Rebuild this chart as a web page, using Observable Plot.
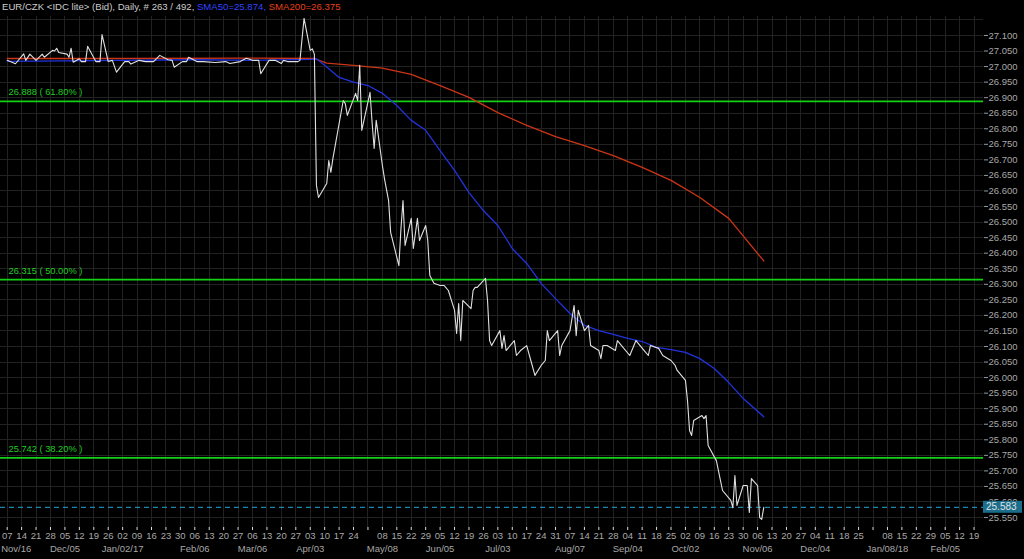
<!DOCTYPE html>
<html><head><meta charset="utf-8">
<script src="https://cdn.jsdelivr.net/npm/d3@7"></script>
<script src="https://cdn.jsdelivr.net/npm/@observablehq/plot@0.6"></script>
<style>
html,body{margin:0;padding:0;background:#000;overflow:hidden;}
#title{height:16px;font:9.6px "Liberation Sans",Arial,sans-serif;color:#cccccc;white-space:nowrap;padding-left:2px;line-height:13px;}
#chart svg{display:block;}
</style></head><body>
<div id="title">EUR/CZK &lt;IDC lite&gt; (Bid), Daily, # 263 / 492, <span style="color:#3344ff">SMA50=25.874,</span> <span style="color:#e8401a">SMA200=26.375</span></div>
<div id="chart"></div>
<script>
// ---- data ----
const bid = [
["2016-11-07",27.020],["2016-11-11",27.009],["2016-11-15",27.041],["2016-11-16",27.020],["2016-11-18",27.040],
["2016-11-21",27.020],["2016-11-24",27.040],["2016-11-25",27.030],["2016-11-29",27.052],["2016-11-30",27.050],
["2016-12-01",27.059],["2016-12-02",27.045],["2016-12-06",27.040],["2016-12-07",27.030],["2016-12-08",27.059],
["2016-12-09",27.014],["2016-12-12",27.025],["2016-12-13",27.016],["2016-12-15",27.016],["2016-12-16",27.065],
["2016-12-20",27.016],["2016-12-22",27.016],["2016-12-23",27.103],["2016-12-26",27.016],["2016-12-28",27.020],
["2016-12-30",26.982],["2017-01-03",27.016],["2017-01-05",27.016],["2017-01-06",27.008],["2017-01-10",27.020],
["2017-01-13",27.016],["2017-01-17",27.016],["2017-01-20",27.036],["2017-01-24",27.022],["2017-01-26",27.020],
["2017-01-27",26.998],["2017-01-31",27.016],["2017-02-02",27.016],["2017-02-03",27.030],["2017-02-07",27.016],
["2017-02-10",27.016],["2017-02-16",27.013],["2017-02-21",27.016],["2017-02-23",27.010],["2017-02-28",27.016],
["2017-03-03",27.027],["2017-03-06",27.020],["2017-03-09",27.020],["2017-03-10",26.977],["2017-03-14",27.020],
["2017-03-17",27.020],["2017-03-20",27.010],["2017-03-21",27.020],["2017-03-23",27.016],["2017-03-28",27.016],
["2017-03-29",27.020],["2017-03-31",27.155],["2017-04-03",27.052],["2017-04-04",27.057],["2017-04-05",27.040],
["2017-04-06",26.618],["2017-04-07",26.579],["2017-04-11",26.624],["2017-04-12",26.698],["2017-04-13",26.660],
["2017-04-14",26.705],["2017-04-19",26.891],["2017-04-20",26.881],["2017-04-21",26.843],["2017-04-25",26.914],
["2017-04-26",26.891],["2017-04-27",27.004],["2017-04-28",26.795],["2017-05-02",26.917],["2017-05-03",26.820],
["2017-05-04",26.737],["2017-05-05",26.827],["2017-05-08",26.682],["2017-05-09",26.640],["2017-05-11",26.569],
["2017-05-12",26.467],["2017-05-16",26.360],["2017-05-17",26.479],["2017-05-18",26.569],["2017-05-19",26.425],
["2017-05-22",26.512],["2017-05-23",26.415],["2017-05-25",26.512],["2017-05-26",26.441],["2017-05-29",26.489],
["2017-05-30",26.441],["2017-05-31",26.328],["2017-06-02",26.303],["2017-06-05",26.296],["2017-06-07",26.296],
["2017-06-09",26.280],["2017-06-12",26.216],["2017-06-13",26.142],["2017-06-14",26.238],["2017-06-15",26.119],
["2017-06-16",26.248],["2017-06-20",26.222],["2017-06-21",26.280],["2017-06-22",26.290],["2017-06-23",26.290],
["2017-06-27",26.319],["2017-06-28",26.248],["2017-06-29",26.119],["2017-06-30",26.103],["2017-07-04",26.151],
["2017-07-05",26.094],["2017-07-06",26.135],["2017-07-07",26.087],["2017-07-11",26.119],["2017-07-12",26.071],
["2017-07-14",26.087],["2017-07-17",26.103],["2017-07-19",26.055],["2017-07-21",26.007],["2017-07-24",26.039],
["2017-07-26",26.055],["2017-07-27",26.151],["2017-07-28",26.119],["2017-08-01",26.151],["2017-08-02",26.071],
["2017-08-03",26.103],["2017-08-07",26.151],["2017-08-09",26.232],["2017-08-10",26.135],["2017-08-11",26.216],
["2017-08-14",26.151],["2017-08-16",26.168],["2017-08-17",26.103],["2017-08-21",26.087],["2017-08-22",26.061],
["2017-08-23",26.103],["2017-08-25",26.103],["2017-08-29",26.087],["2017-08-30",26.119],["2017-09-01",26.103],
["2017-09-05",26.071],["2017-09-07",26.103],["2017-09-08",26.119],["2017-09-12",26.087],["2017-09-14",26.071],
["2017-09-15",26.103],["2017-09-19",26.094],["2017-09-21",26.071],["2017-09-25",26.055],["2017-09-27",26.039],
["2017-09-28",26.023],["2017-10-02",25.991],["2017-10-03",25.926],["2017-10-04",25.830],["2017-10-05",25.814],
["2017-10-06",25.862],["2017-10-10",25.878],["2017-10-11",25.868],["2017-10-12",25.878],["2017-10-13",25.782],
["2017-10-17",25.733],["2017-10-18",25.701],["2017-10-19",25.669],["2017-10-20",25.637],["2017-10-24",25.605],
["2017-10-25",25.582],["2017-10-26",25.685],["2017-10-27",25.589],["2017-10-30",25.653],["2017-11-01",25.653],
["2017-11-02",25.566],["2017-11-03",25.675],["2017-11-06",25.653],["2017-11-07",25.550],["2017-11-08",25.544],
["2017-11-09",25.583]
];
const sma50 = [
["2016-11-07",27.017],["2016-12-05",27.018],["2017-01-02",27.020],["2017-02-06",27.022],["2017-03-06",27.020],
["2017-04-03",27.023],["2017-04-06",27.025],["2017-04-10",27.004],["2017-04-17",26.965],["2017-04-24",26.950],
["2017-05-01",26.939],["2017-05-08",26.914],["2017-05-15",26.875],["2017-05-22",26.827],["2017-05-29",26.795],
["2017-06-05",26.730],["2017-06-12",26.666],["2017-06-19",26.595],["2017-06-26",26.537],["2017-07-03",26.489],
["2017-07-10",26.415],["2017-07-17",26.367],["2017-07-24",26.303],["2017-07-31",26.254],["2017-08-07",26.206],
["2017-08-14",26.168],["2017-08-21",26.151],["2017-08-28",26.139],["2017-09-04",26.126],["2017-09-11",26.116],
["2017-09-18",26.097],["2017-09-25",26.090],["2017-10-02",26.081],["2017-10-09",26.061],["2017-10-16",26.029],
["2017-10-23",25.984],["2017-10-30",25.933],["2017-11-09",25.874]
];
const sma200 = [
["2016-11-07",27.026],["2017-01-02",27.026],["2017-03-06",27.027],["2017-04-05",27.026],["2017-04-11",27.011],
["2017-04-24",27.004],["2017-05-08",26.995],["2017-05-22",26.975],["2017-06-05",26.939],["2017-06-19",26.901],
["2017-07-03",26.852],["2017-07-17",26.811],["2017-07-31",26.775],["2017-08-14",26.746],["2017-08-28",26.714],
["2017-09-11",26.676],["2017-09-25",26.634],["2017-10-09",26.579],["2017-10-23",26.512],["2017-11-09",26.375]
];
const fibLevels = [26.888, 26.315, 25.742];
const fibLabels = ["26.888 ( 61.80% )", "26.315 ( 50.00% )", "25.742 ( 38.20% )"];
const lastValue = 25.583;
const yTicks = d3.range(25.55, 27.1001, 0.05).map(v => +v.toFixed(3));
const monthLabels = [
["2016-11-07","Nov/16"],["2016-12-05","Dec/05"],["2017-01-02","Jan/02/17"],["2017-02-06","Feb/06"],
["2017-03-06","Mar/06"],["2017-04-03","Apr/03"],["2017-05-08","May/08"],["2017-06-05","Jun/05"],
["2017-07-03","Jul/03"],["2017-08-07","Aug/07"],["2017-09-04","Sep/04"],["2017-10-02","Oct/02"],
["2017-11-06","Nov/06"],["2017-12-04","Dec/04"],["2018-01-08","Jan/08/18"],["2018-02-05","Feb/05"]
];
const skipDayLabels = ["2017-05-01","2018-01-01"];
const xStart = "2016-11-03T18:00Z", xEnd = "2018-02-23T14:00Z";
const yMin = 25.518, yMax = 27.161;

// ---- build ----
const P = a => a.map(([d, v]) => ({date: new Date(d), v}));
const bidD = P(bid), s50 = P(sma50), s200 = P(sma200);
const weeks = d3.utcMonday.range(new Date("2016-11-07"), new Date("2018-02-20"));
const skip = new Set(skipDayLabels.map(d => +new Date(d)));
const fib = fibLevels.map((v, i) => ({v, label: fibLabels[i]}));
const months = monthLabels.map(([d, t]) => ({date: new Date(d), t, y: yMin}));
const gridY = d3.range(25.55, 27.16, 0.05);
const font = "Liberation Sans, Arial, sans-serif";

const chart = Plot.plot({
  width: 1024, height: 543,
  marginLeft: 0, marginRight: 41, marginTop: 0, marginBottom: 32,
  style: {background: "#000", color: "#a8a8a8", fontFamily: font, fontSize: "9.5px"},
  x: {type: "utc", domain: [new Date(xStart), new Date(xEnd)], label: null},
  y: {domain: [yMin, yMax], label: null},
  marks: [
    Plot.ruleX(weeks, {stroke: "#222", strokeWidth: 1, shapeRendering: "crispEdges"}),
    Plot.ruleY(gridY, {stroke: "#222", strokeWidth: 1, shapeRendering: "crispEdges"}),
    Plot.ruleY(fib, {y: "v", stroke: "#14d014", strokeWidth: 1.6}),
    Plot.text(fib, {y: "v", text: "label", frameAnchor: "left", textAnchor: "start", dx: 8, dy: -9, fill: "#22cc22", fontSize: 9.3}),
    Plot.ruleY([lastValue], {stroke: "#1b86aa", strokeWidth: 1.3, strokeDasharray: "5,4"}),
    Plot.line(s200, {x: "date", y: "v", stroke: "#cc3516", strokeWidth: 1.3}),
    Plot.line(s50, {x: "date", y: "v", stroke: "#2233dd", strokeWidth: 1.3}),
    Plot.line(bidD, {x: "date", y: "v", stroke: "#e0e0e0", strokeWidth: 1.1}),
    Plot.axisY({anchor: "right", label: null, ticks: yTicks, tickFormat: d3.format(".3f"), tickSize: 4, tickPadding: 1, stroke: "#999", fill: "#a8a8a8", fontSize: 9.5}),
    Plot.axisX({label: null, ticks: weeks, tickFormat: d => skip.has(+d) ? "" : d3.utcFormat("%d")(d), tickSize: 3, tickPadding: 2, stroke: "#ddd", fill: "#a8a8a8", fontSize: 9.5}),
    Plot.text(months.slice(1), {x: "date", y: "y", text: "t", dy: 21, lineAnchor: "middle", textAnchor: "middle", fill: "#a8a8a8", fontSize: 9.5}),
    Plot.text(months.slice(0, 1), {x: "date", y: "y", text: "t", dy: 21, dx: -6, lineAnchor: "middle", textAnchor: "start", fill: "#a8a8a8", fontSize: 9.5})
  ]
});
document.getElementById("chart").appendChild(chart);

// last-value box on the right axis
const ys = chart.scale("y");
const svg = d3.select(chart);
const yy = ys.apply(lastValue);
svg.append("rect").attr("x", 983).attr("y", yy - 6).attr("width", 39).attr("height", 12).attr("fill", "#1a6e8c");
svg.append("text").attr("x", 986).attr("y", yy + 3.5).attr("text-anchor", "start").attr("fill", "#e0e0e0")
  .attr("font-size", 10).attr("font-family", font).text(d3.format(".3f")(lastValue));
</script>
</body></html>
